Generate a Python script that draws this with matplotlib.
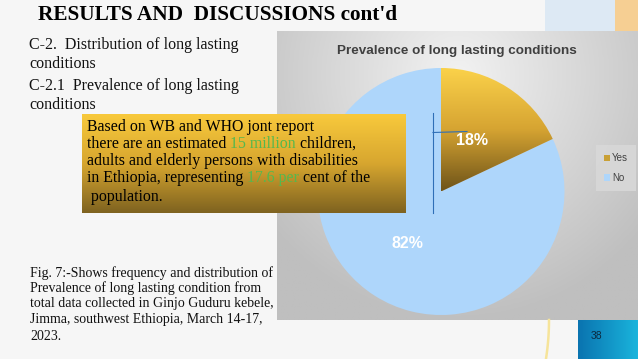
import numpy as np
import matplotlib
matplotlib.use('Agg')
import matplotlib.pyplot as plt
from matplotlib.colors import LinearSegmentedColormap
from matplotlib.patches import Rectangle, Patch

# chart data
labels = ['Yes', 'No']
values = [18, 82]
pct_labels = ['18%', '82%']
slice_colors = ['#c79a2c', '#aed6fb']

chart_title = 'Prevalence of long lasting conditions'
slide_title = "RESULTS AND  DISCUSSIONS cont'd"
heading_lines = ['C-2.  Distribution of long lasting', 'conditions',
                 'C-2.1  Prevalence of long lasting', 'conditions']
caption_lines = ['Fig. 7:-Shows frequency and distribution of',
                 'Prevalence of long lasting condition from',
                 'total data collected in Ginjo Guduru kebele,',
                 'Jimma, southwest Ethiopia, March 14-17,',
                 '2023.']

W, H = 638, 359
fig = plt.figure(figsize=(W / 100, H / 100), dpi=100)
fig.patch.set_facecolor('#f6f6f6')

serif = 'Liberation Serif'
sans = 'Liberation Sans'

# background layer in pixel coords
bg = fig.add_axes([0, 0, 1, 1], zorder=0)
bg.set_xlim(0, W)
bg.set_ylim(H, 0)
bg.axis('off')

# slide decorations (top right)
bg.add_patch(Rectangle((545, 0), 70, 31, color='#dde9f4', lw=0))
bg.add_patch(Rectangle((615, 0), 23, 31, color='#f6cf93', lw=0))

# chart panel with radial grey gradient
px0, px1, py0, py1 = 277, 638, 31, 320
yy, xx = np.mgrid[0:200, 0:300]
d = np.sqrt(((xx - 150) / 200.0) ** 2 + ((yy - 30) / 170.0) ** 2)
gray_cmap = LinearSegmentedColormap.from_list('g', ['#f2f2f2', '#bfbfbf'])
bg.imshow(np.clip(d, 0, 1), cmap=gray_cmap, vmin=0, vmax=1,
          extent=(px0, px1, py1, py0), aspect='auto', zorder=1)

# bottom right page-number block
blue_cmap = LinearSegmentedColormap.from_list('b', ['#0a74b0', '#1ab4dc'])
bg.imshow(np.tile(np.linspace(0, 1, 50), (10, 1)), cmap=blue_cmap,
          extent=(578, 638, 359, 320), aspect='auto', zorder=1)
bg.text(596, 336, '38', fontsize=7.5, color='#0b2a40', family=sans,
        ha='center', va='center', zorder=3)
arc_y = np.linspace(320, 359, 20)
bg.plot(549 - 0.002 * (arc_y - 320) ** 2, arc_y, color='#f6e49a', lw=1.8, zorder=2)

# slide texts
bg.text(38, 15, slide_title, fontsize=15.3, fontweight='bold', family=serif,
        color='black', va='center', ha='left', zorder=3)
for line, y in zip(heading_lines, [45, 64, 86, 105]):
    bg.text(29, y, line, fontsize=11.5, family=serif, color='#111111',
            va='center', ha='left', zorder=3)
for line, y in zip(caption_lines, [273, 288.5, 304, 320, 336]):
    bg.text(30, y, line, fontsize=10.0, family=serif, color='#111111',
            va='center', ha='left', zorder=3)

# chart title
bg.text(457, 51, chart_title, fontsize=9.7, fontweight='bold', family=sans,
        color='#404040', ha='center', va='center', zorder=3)

# pie axes
cx, cy, r = 441, 191.5, 123.5
pie_ax = fig.add_axes([(cx - r) / W, 1 - (cy + r) / H, 2 * r / W, 2 * r / H],
                      zorder=1)
pie_ax.patch.set_alpha(0)
wedges, _ = pie_ax.pie(values, colors=slice_colors, startangle=90,
                       counterclock=False, radius=1)
pie_ax.set_xlim(-1, 1)
pie_ax.set_ylim(-1, 1)
pie_ax.set_aspect('auto')
pie_ax.axis('off')

# gold gradient inside the Yes wedge
gold_cmap = LinearSegmentedColormap.from_list('gold', ['#fbd24a', '#d6a432', '#6f5419'])
grad = np.tile(np.linspace(0, 1, 100)[:, None], (1, 10))
im = pie_ax.imshow(grad, cmap=gold_cmap, extent=(-1, 1, 0, 1), aspect='auto',
                   origin='upper', zorder=2)
im.set_clip_path(wedges[0])
wedges[0].set_facecolor('none')

pie_ax.text(0.25, 0.41, pct_labels[0], color='white', fontsize=11.5,
            fontweight='bold', family=sans, ha='center', va='center', zorder=4)
pie_ax.text(-0.27, -0.42, pct_labels[1], color='white', fontsize=11.5,
            fontweight='bold', family=sans, ha='center', va='center', zorder=4)

# legend
handles = [Patch(facecolor='#c9a035', edgecolor='none'),
           Patch(facecolor='#aed6fb', edgecolor='none')]
leg = fig.legend(handles, labels, loc='center', bbox_to_anchor=(616 / W, 1 - 168 / H),
                 frameon=True, handlelength=0.6, handleheight=0.6,
                 handletextpad=0.2, labelspacing=1.0, borderpad=0.8,
                 prop={'family': sans, 'size': 7})
leg.get_frame().set_facecolor('#d8d8d8')
leg.get_frame().set_edgecolor('none')
leg.get_frame().set_alpha(0.9)
leg.get_frame().set_boxstyle('square', pad=0)
for t in leg.get_texts():
    t.set_color('#404040')

# overlay: text box and leader line
ov = fig.add_axes([0, 0, 1, 1], zorder=3)
ov.axis('off')
ov.patch.set_alpha(0)

box_cmap = LinearSegmentedColormap.from_list('box', ['#f8c93c', '#d7a62f', '#7f6320'])
ov.imshow(np.tile(np.linspace(0, 1, 100)[:, None], (1, 10)), cmap=box_cmap,
          extent=(82, 406, 213, 114), aspect='auto')
ov.set_xlim(0, W)
ov.set_ylim(H, 0)

green = '#55b84e'
box_lines = [
    [('Based on WB and WHO jont report', 'black')],
    [('there are an estimated ', 'black'), ('15 million', green), (' children,', 'black')],
    [('adults and elderly persons with disabilities', 'black')],
    [('in Ethiopia, representing ', 'black'), ('17.6 per', green), (' cent of the', 'black')],
    [(' population.', 'black')],
]
fig.canvas.draw()
renderer = fig.canvas.get_renderer()
for parts, y in zip(box_lines, [127, 144, 161, 178, 197]):
    x = 87
    for s, col in parts:
        t = ov.text(x, y, s, fontsize=11.4, family=serif, color=col,
                    ha='left', va='center')
        bb = t.get_window_extent(renderer=renderer)
        x += bb.width

ov.plot([433, 433], [113, 213], color='#2f6fb7', lw=0.8)
ov.plot([433, 467], [132.5, 131.5], color='#2f6fb7', lw=0.8)

fig.savefig('out.png', dpi=100)
